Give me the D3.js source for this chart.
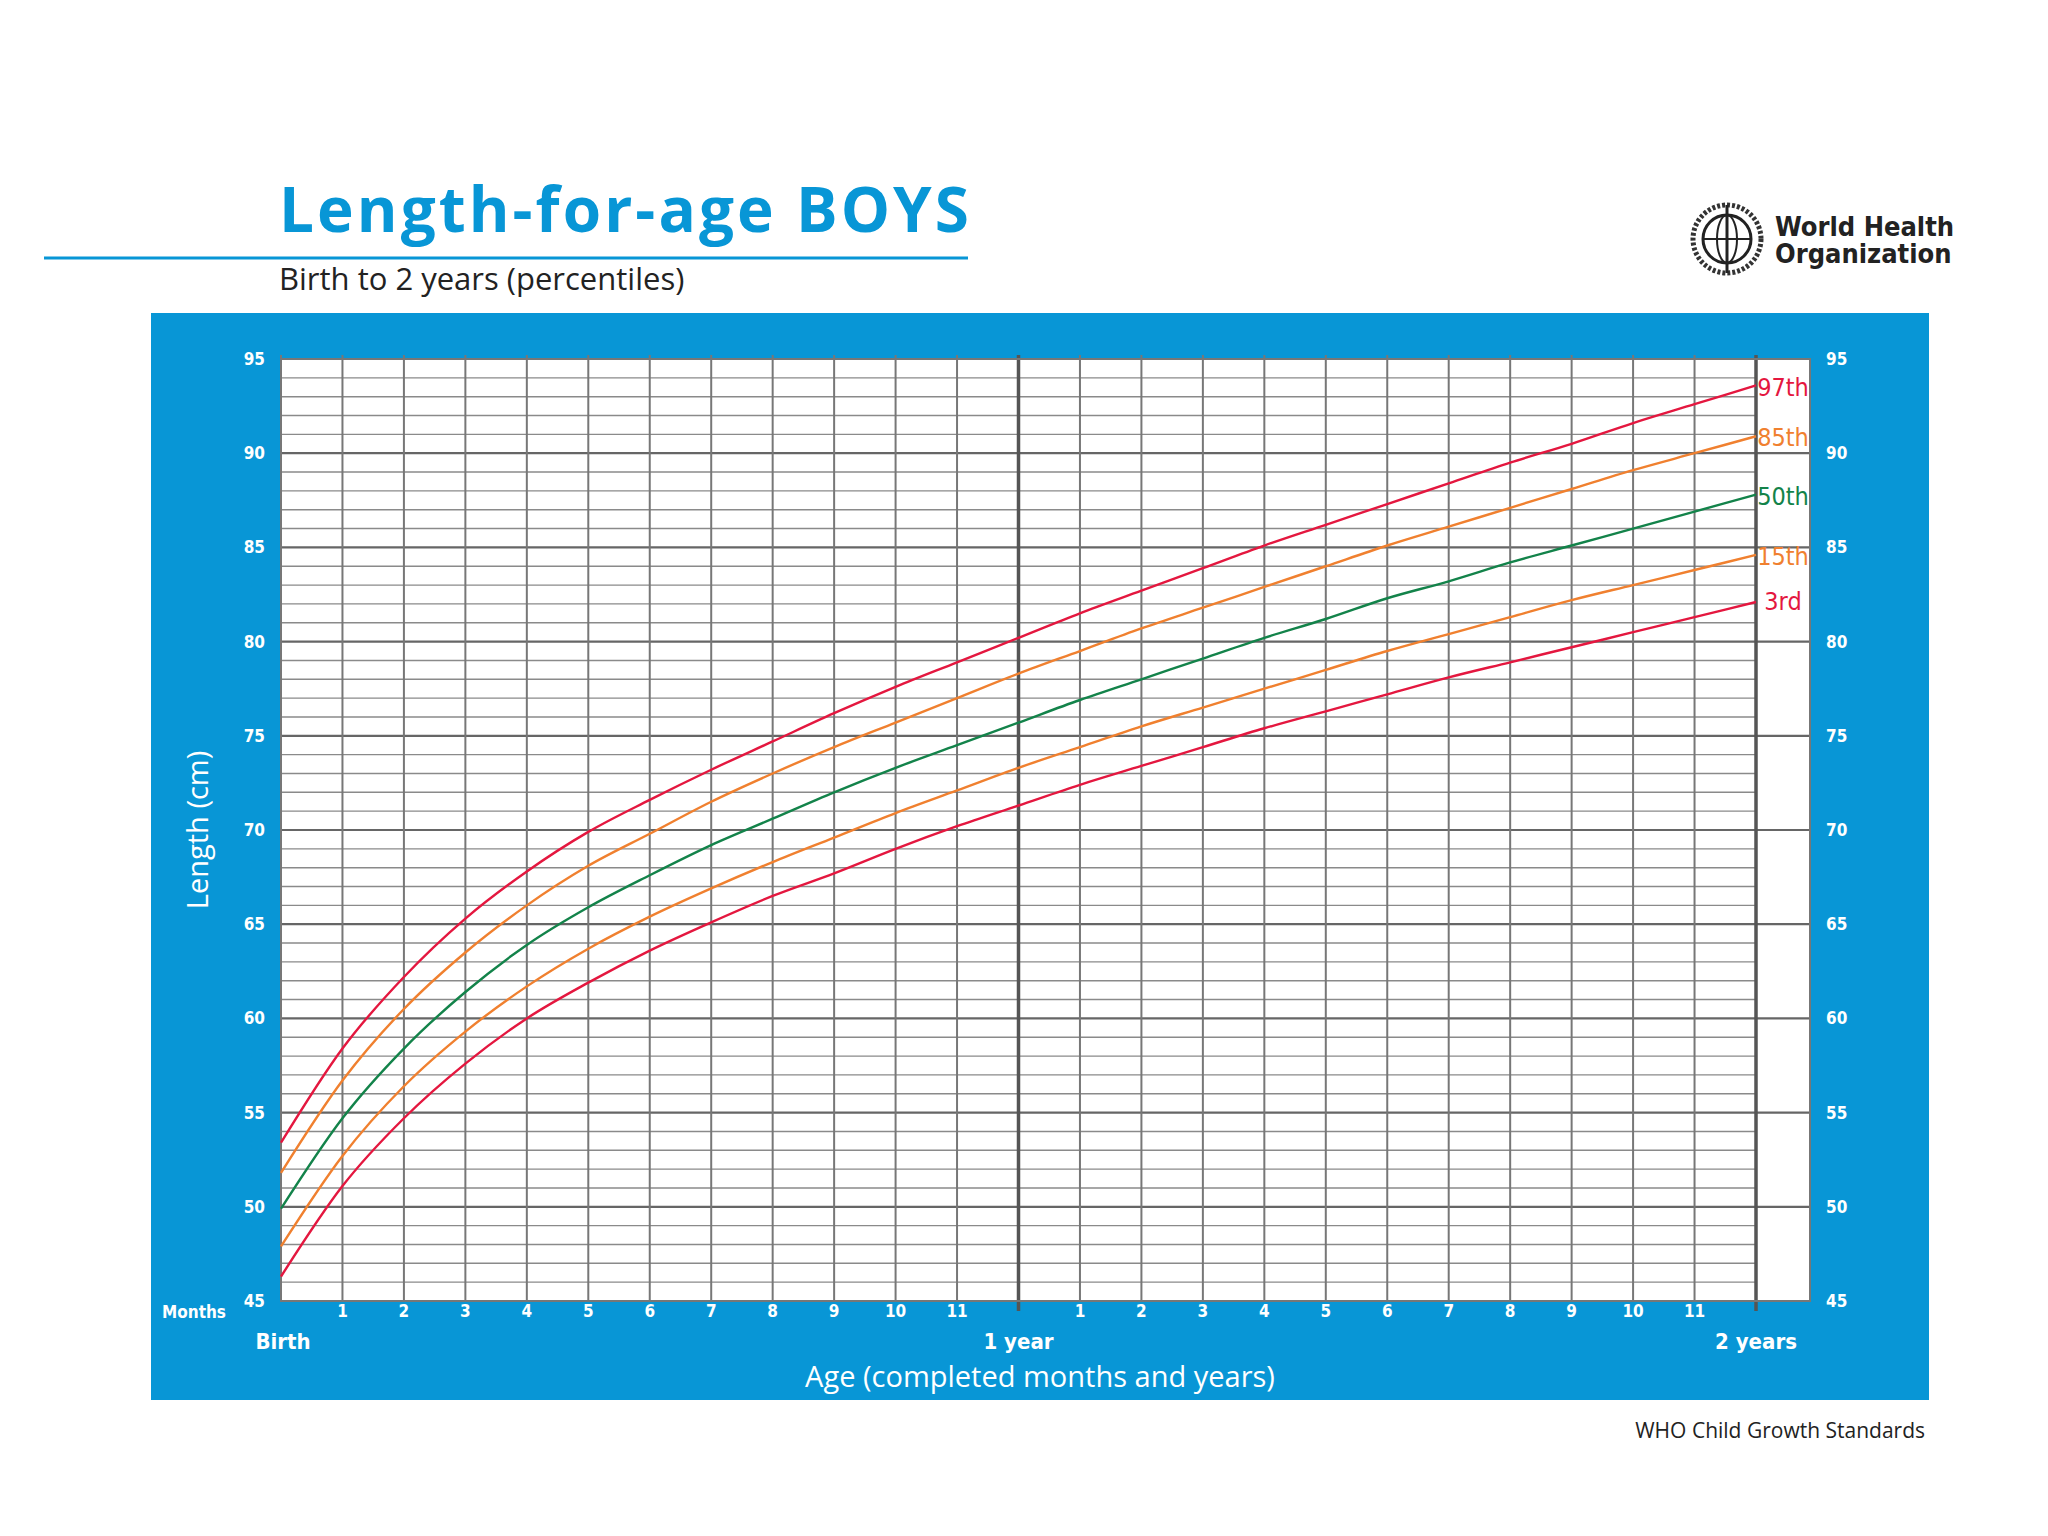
<!DOCTYPE html>
<html><head><meta charset="utf-8">
<script src="https://cdn.jsdelivr.net/npm/d3@7/dist/d3.min.js"></script>
<style>body{margin:0;background:#fff}svg{display:block}</style>
</head><body>
<script>
const months = d3.range(0, 25);
const p3  = [46.3,51.1,54.7,57.6,60.0,61.9,63.6,65.1,66.5,67.7,69.0,70.2,71.3,72.4,73.4,74.4,75.4,76.3,77.2,78.1,78.9,79.7,80.5,81.3,82.1];
const p15 = [47.9,52.7,56.4,59.3,61.7,63.7,65.4,66.9,68.3,69.6,70.9,72.1,73.3,74.4,75.5,76.5,77.5,78.5,79.5,80.4,81.3,82.2,83.0,83.8,84.6];
const p50 = [49.9,54.7,58.4,61.4,63.9,65.9,67.6,69.2,70.6,72.0,73.3,74.5,75.7,76.9,78.0,79.1,80.2,81.2,82.3,83.2,84.2,85.1,86.0,86.9,87.8];
const p85 = [51.8,56.7,60.5,63.5,66.0,68.1,69.8,71.5,73.0,74.4,75.7,77.0,78.3,79.5,80.7,81.8,82.9,84.0,85.1,86.1,87.1,88.1,89.1,90.0,90.9];
const p97 = [53.4,58.4,62.2,65.3,67.8,69.9,71.6,73.2,74.7,76.2,77.6,78.9,80.2,81.5,82.7,83.9,85.1,86.2,87.3,88.4,89.5,90.5,91.6,92.6,93.6];
const seriesNames = ["97th","85th","50th","15th","3rd"];
const seriesColors = ["#e4173f","#f0802f","#13834a","#f0802f","#e4173f"];
const yTicks = [45,50,55,60,65,70,75,80,85,90,95];
const monthLabels = ["","1","2","3","4","5","6","7","8","9","10","11","","1","2","3","4","5","6","7","8","9","10","11",""];

const W=2048,H=1536;
const svg=d3.select("body").append("svg").attr("width",W).attr("height",H);
const cond="'Liberation Sans Narrow','DejaVu Sans Condensed','Roboto Condensed',sans-serif";
const blue="#0896d6";

// header
svg.append("text").attr("x",279).attr("y",232).attr("fill",blue).attr("font-family","'Open Sans',sans-serif")
  .attr("font-weight",700).attr("font-size",62).attr("textLength",690).text("Length-for-age BOYS");
svg.append("line").attr("x1",44).attr("x2",968).attr("y1",258).attr("y2",258).attr("stroke",blue).attr("stroke-width",3);
svg.append("text").attr("x",279).attr("y",290).attr("fill","#222").attr("font-family","'Open Sans',sans-serif")
  .attr("font-size",31).text("Birth to 2 years (percentiles)");
// logo
const lg=svg.append("g").attr("transform","translate(1727,239)");
lg.append("circle").attr("r",34).attr("fill","none").attr("stroke","#333").attr("stroke-width",5).attr("stroke-dasharray","3 2");
lg.append("circle").attr("r",24).attr("fill","#fff").attr("stroke","#222").attr("stroke-width",3);
lg.append("ellipse").attr("rx",10).attr("ry",24).attr("fill","none").attr("stroke","#222").attr("stroke-width",2);
lg.append("line").attr("x1",-24).attr("x2",24).attr("stroke","#222").attr("stroke-width",2);
lg.append("line").attr("y1",-34).attr("y2",34).attr("stroke","#222").attr("stroke-width",3);
svg.append("text").attr("x",1775).attr("y",236).attr("font-family",cond).attr("font-weight",700).attr("font-size",27).attr("fill","#222").text("World Health");
svg.append("text").attr("x",1775).attr("y",263).attr("font-family",cond).attr("font-weight",700).attr("font-size",27).attr("fill","#222").text("Organization");

// panel
svg.append("rect").attr("x",151).attr("y",313).attr("width",1778).attr("height",1087).attr("fill",blue);
const x=d3.scaleLinear().domain([0,24]).range([281,1756]);
const y=d3.scaleLinear().domain([45,95]).range([1301,359]);
const xr=1810;
svg.append("rect").attr("x",281).attr("y",359).attr("width",xr-281).attr("height",1301-359).attr("fill","#fff");
const g=svg.append("g");
// horizontal lines
d3.range(45,96).forEach(v=>{
  const major=v%5===0;
  g.append("line").attr("x1",281).attr("x2",major?xr:x(24)).attr("y1",y(v)).attr("y2",y(v))
   .attr("stroke",major?"#666":"#8a8a8a").attr("stroke-width",major?2.2:1.4);
});
months.forEach(m=>{
  const big=m===12||m===24;
  g.append("line").attr("x1",x(m)).attr("x2",x(m)).attr("y1",y(95)-4).attr("y2",y(45)+(big?10:0))
   .attr("stroke",big?"#555":"#777").attr("stroke-width",big?3.5:2);
});
g.append("rect").attr("x",281).attr("y",359).attr("width",xr-281).attr("height",942).attr("fill","none").attr("stroke","#777").attr("stroke-width",2);

// curves
const series=[p97,p85,p50,p15,p3];
const line=d3.line().x((d,i)=>x(months[i])).y(d=>y(d)).curve(d3.curveMonotoneX);
series.forEach((s,i)=>{
  svg.append("path").attr("d",line(s)).attr("fill","none").attr("stroke",seriesColors[i]).attr("stroke-width",2.4);
});
const labOff=[0,0,0,0,0];
series.forEach((s,i)=>{
  svg.append("text").attr("x",i===4?1783:1783).attr("y",y(s[24])-([...[-2,-2,-2,-2,-2]][i])+(i===4?0:0)+(i===4?0:0))
   .attr("dy",i===4?"-0.05em":"0.05em")
   .attr("text-anchor","middle").attr("font-family",cond).attr("font-size",25).attr("fill",seriesColors[i])
   .attr("dominant-baseline", "middle").text(seriesNames[i]);
});

// y ticks
const wt=svg.append("g").attr("fill","#fff").attr("font-family",cond).attr("font-weight",700).attr("font-size",17);
yTicks.forEach(v=>{
  wt.append("text").attr("x",265).attr("y",y(v)).attr("dy","0.35em").attr("text-anchor","end").text(v);
  wt.append("text").attr("x",1826).attr("y",y(v)).attr("dy","0.35em").text(v);
});
months.forEach(m=>{
  if(monthLabels[m]) wt.append("text").attr("x",x(m)).attr("y",1317).attr("text-anchor","middle").text(monthLabels[m]);
});
wt.append("text").attr("x",194).attr("y",1318).attr("text-anchor","middle").text("Months");
const ft=svg.append("g").attr("fill","#fff").attr("font-family",cond).attr("font-weight",700).attr("font-size",22).attr("text-anchor","middle");
ft.append("text").attr("x",x(0)+2).attr("y",1349).text("Birth");
ft.append("text").attr("x",x(12)).attr("y",1349).text("1 year");
ft.append("text").attr("x",x(24)).attr("y",1349).text("2 years");
svg.append("text").attr("x",1040).attr("y",1387).attr("text-anchor","middle").attr("fill","#fff")
  .attr("font-family","'Open Sans',sans-serif").attr("font-size",29).text("Age (completed months and years)");
svg.append("text").attr("transform","translate(208,830) rotate(-90)").attr("text-anchor","middle").attr("fill","#fff")
  .attr("font-family","'Open Sans',sans-serif").attr("font-size",29).text("Length (cm)");
svg.append("text").attr("x",1925).attr("y",1438).attr("text-anchor","end").attr("fill","#222")
  .attr("font-family","'Open Sans',sans-serif").attr("font-size",21).text("WHO Child Growth Standards");
</script>
</body></html>
